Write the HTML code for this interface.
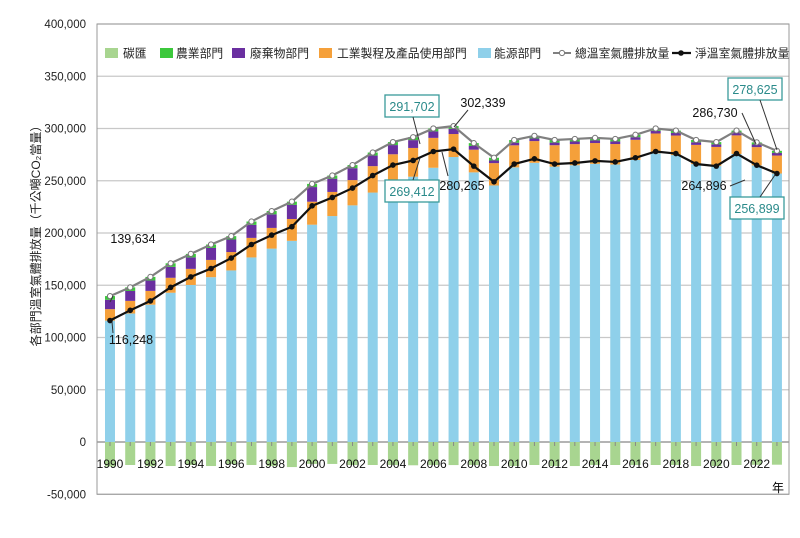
<!DOCTYPE html>
<html><head><meta charset="utf-8">
<style>
body{margin:0;background:#fff;width:800px;height:533px;overflow:hidden;font-family:"Liberation Sans","Noto Sans CJK TC",sans-serif;}
svg text{font-family:"Liberation Sans","Noto Sans CJK TC",sans-serif;}
</style></head>
<body>
<svg id="c" width="800" height="533" xmlns="http://www.w3.org/2000/svg"></svg>
<script>
const s=document.getElementById('c');
let h='';
const Y=v=>442-v*0.001045;
const X=i=>110+i*20.21;
for(let v=-50000;v<=400000;v+=50000){
  h+=`<line x1="97" x2="789" y1="${Y(v)}" y2="${Y(v)}" stroke="${v==0?'#888':'#c8c8c8'}" stroke-width="1.2"/>`;
  h+=`<text x="86" y="${Y(v)+4}" font-size="11.5" text-anchor="end" fill="#222">${v.toLocaleString('en-US')}</text>`;
}
h+=`<rect x="97" y="${Y(400000)}" width="692" height="${Y(-50000)-Y(400000)}" fill="none" stroke="#999" stroke-width="1"/>`;
const tot=[139634,148000,158000,171000,180000,189000,197000,211000,221000,230000,247000,255000,265000,277000,287000,291702,300000,302339,286000,272000,289000,293000,289000,290000,291000,290000,294000,300000,298000,289000,287000,298000,286730,278625];
const net=[116248,126000,135000,148000,158000,166000,176000,189000,198000,206000,226000,234000,243000,255000,265000,269412,278000,280265,264000,249000,266000,271000,266000,267000,269000,268000,272000,278000,276000,266000,264000,276000,264896,256899];
const n=tot.length;
let tp='',np='';
for(let i=0;i<n;i++){
  const x=X(i),w=10;
  const t=i/33;
  const agri=3500-1500*t;
  const waste=i<10?9000+i*500:Math.max(2500,14000-(i-10)*1300);
  const ind=i<17?11000+i*1100:22000-(i-17)*300;
  const en=tot[i]-agri-waste-ind;
  const sink=tot[i]-net[i];
  let y0=442;
  const seg=(v,c)=>{h+=`<rect x="${x-w/2}" y="${y0-v*0.001045}" width="${w}" height="${v*0.001045}" fill="${c}"/>`;y0-=v*0.001045;};
  seg(en,'#8fd0ea');seg(ind,'#f5a03a');seg(waste,'#6a2fa0');seg(agri,'#3cc83c');
  h+=`<rect x="${x-w/2}" y="442" width="${w}" height="${sink*0.001045}" fill="#a8d590"/>`;
  tp+=`${i?'L':'M'}${x},${Y(tot[i])}`;np+=`${i?'L':'M'}${x},${Y(net[i])}`;
  h+=`<line x1="${x}" x2="${x}" y1="442" y2="446" stroke="#888"/>`;
  if(i%2==0)h+=`<text x="${x}" y="468" font-size="12" text-anchor="middle" fill="#111">${1990+i}</text>`;
}
h+=`<path d="${tp}" fill="none" stroke="#808080" stroke-width="2.2"/>`;
h+=`<path d="${np}" fill="none" stroke="#111" stroke-width="2.2"/>`;
for(let i=0;i<n;i++){
  h+=`<circle cx="${X(i)}" cy="${Y(tot[i])}" r="2.6" fill="#fff" stroke="#777" stroke-width="1"/>`;
  h+=`<circle cx="${X(i)}" cy="${Y(net[i])}" r="2.8" fill="#111"/>`;
}
h+=`<text x="778" y="492" font-size="12" text-anchor="middle">年</text>`;
h+=`<text transform="translate(40,233) rotate(-90)" font-size="12" text-anchor="middle" fill="#222">各部門溫室氣體排放量（千公噸CO₂當量）</text>`;
const lg=[['碳匯','#a8d590',105,123],['農業部門','#3cc83c',160,176],['廢棄物部門','#6a2fa0',232,250],['工業製程及產品使用部門','#f5a03a',319,337],['能源部門','#8fd0ea',478,494]];
lg.forEach(([t,c,x,tx])=>{h+=`<rect x="${x}" y="48" width="13" height="10" fill="${c}"/><text x="${tx}" y="57.5" font-size="11.8" fill="#222">${t}</text>`;});
h+=`<line x1="553" x2="571" y1="53" y2="53" stroke="#808080" stroke-width="2"/><circle cx="562" cy="53" r="2.6" fill="#fff" stroke="#777"/><text x="575" y="57.5" font-size="11.8" fill="#222">總溫室氣體排放量</text>`;
h+=`<line x1="672" x2="691" y1="53" y2="53" stroke="#111" stroke-width="2.2"/><circle cx="681" cy="53" r="2.8" fill="#111"/><text x="695" y="57.5" font-size="11.8" fill="#222">淨溫室氣體排放量</text>`;
const lab=(x,y,t)=>{h+=`<text x="${x}" y="${y}" font-size="12.5" text-anchor="middle" fill="#111">${t}</text>`;};
const box=(x,y,t)=>{h+=`<rect x="${x}" y="${y}" width="54" height="22" fill="#fff" stroke="#3a9a9a" stroke-width="1.3"/><text x="${x+27}" y="${y+16}" font-size="12.5" text-anchor="middle" fill="#2a8a8a">${t}</text>`;};
lab(133,243,'139,634');lab(131,344,'116,248');
lab(483,107,'302,339');lab(462,190,'280,265');
lab(715,117,'286,730');lab(704,190,'264,896');
box(385,95,'291,702');box(385,180,'269,412');box(728,78,'278,625');box(730,197,'256,899');
const ln=(a,b,c,d)=>{h+=`<line x1="${a}" y1="${b}" x2="${c}" y2="${d}" stroke="#333" stroke-width="1"/>`;};
ln(413,117,420,144);ln(413,180,420,158);ln(468,110,454,127);ln(448,176,442,152);
ln(742,113,756,144);ln(730,186,745,180);ln(760,100,777,150);ln(760,197,775,175);
ln(113,296,110,302);ln(113,333,112,322);
s.innerHTML=h;
</script>
</body></html>
